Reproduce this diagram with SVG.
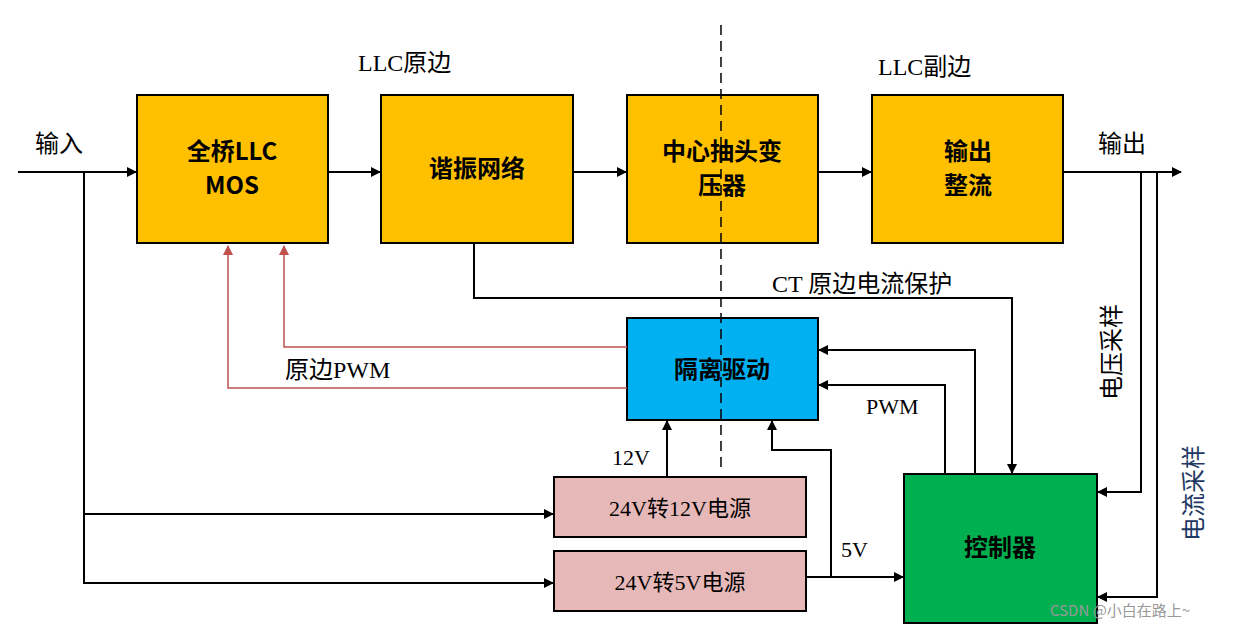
<svg xmlns="http://www.w3.org/2000/svg" width="1254" height="629" viewBox="0 0 1254 629">
<style>
.b{stroke:#000;stroke-width:2}
.t{font-family:"Noto Sans CJK SC","Liberation Serif",serif;font-size:24px;font-weight:bold;text-anchor:middle}
.l{font-family:"Liberation Serif","Noto Sans CJK SC",serif;font-size:22px}
.c{fill:none;stroke:#000;stroke-width:2}
.r{fill:none;stroke:#c0504d;stroke-width:1.5}
</style>
<defs>
<marker id="a" markerWidth="10" markerHeight="10" refX="9" refY="5" orient="auto" markerUnits="userSpaceOnUse" viewBox="0 0 10 10"><path d="M0,0L10,5L0,10z" fill="#000"/></marker>
<marker id="ar" markerWidth="10" markerHeight="10" refX="9" refY="5" orient="auto" markerUnits="userSpaceOnUse" viewBox="0 0 10 10"><path d="M0,0L10,5L0,10z" fill="#c0504d"/></marker>
</defs>
<rect width="1254" height="629" fill="#fff"/>
<g id="n1"><rect class="b" x="137" y="95" width="191" height="148" fill="#ffc000"/><text class="t" x="232" y="160">全桥LLC</text><text class="t" x="232" y="194">MOS</text></g>
<g id="n2"><rect class="b" x="381" y="95" width="192" height="148" fill="#ffc000"/><text class="t" x="477" y="177">谐振网络</text></g>
<g id="n3"><rect class="b" x="627" y="95" width="191" height="148" fill="#ffc000"/><text class="t" x="722" y="160">中心抽头变</text><text class="t" x="722" y="194">压器</text></g>
<g id="n4"><rect class="b" x="872" y="95" width="191" height="148" fill="#ffc000"/><text class="t" x="968" y="160">输出</text><text class="t" x="968" y="194">整流</text></g>
<g id="n5"><rect class="b" x="627" y="318" width="191" height="102" fill="#00b0f0"/><text class="t" x="722" y="378">隔离驱动</text></g>
<g id="n6"><rect class="b" x="554" y="477" width="252" height="60" fill="#e6b9b8"/><text class="l" x="680" y="516" text-anchor="middle" font-size="24">24V转12V电源</text></g>
<g id="n7"><rect class="b" x="554" y="551" width="252" height="60" fill="#e6b9b8"/><text class="l" x="680" y="590" text-anchor="middle" font-size="24">24V转5V电源</text></g>
<g id="n8"><rect class="b" x="904" y="474" width="193" height="149" fill="#00b050"/><text class="t" x="1000" y="556">控制器</text></g>
<g id="conn">
<path class="c" d="M18,172H136" marker-end="url(#a)"/>
<path class="c" d="M328,172H380" marker-end="url(#a)"/>
<path class="c" d="M573,172H626" marker-end="url(#a)"/>
<path class="c" d="M818,172H871" marker-end="url(#a)"/>
<path class="c" d="M1063,172H1181" marker-end="url(#a)"/>
<path d="M721,25V470" stroke="#000" stroke-width="1.5" stroke-dasharray="10,6" fill="none"/>
<path class="c" d="M474,243V298H1012V473" marker-end="url(#a)"/>
<path class="r" d="M627,347H284V246" marker-end="url(#ar)"/>
<path class="r" d="M627,388H228V246" marker-end="url(#ar)"/>
<path class="c" d="M975,474V350H819" marker-end="url(#a)"/>
<path class="c" d="M945,474V385H819" marker-end="url(#a)"/>
<path class="c" d="M667,477V421" marker-end="url(#a)"/>
<path class="c" d="M831,577V450H772V421" marker-end="url(#a)"/>
<path class="c" d="M806,577H903" marker-end="url(#a)"/>
<path class="c" d="M84,172V583H553" marker-end="url(#a)"/>
<path class="c" d="M84,514H553" marker-end="url(#a)"/>
<path class="c" d="M1141,172V492H1098" marker-end="url(#a)"/>
<path class="c" d="M1157,172V597H1098" marker-end="url(#a)"/>
</g>
<g class="l">
<text x="35" y="152" font-family="Noto Sans CJK SC,sans-serif" font-size="24">输入</text>
<text x="1098" y="152" font-family="Noto Sans CJK SC,sans-serif" font-size="24">输出</text>
<text x="358" y="71" font-size="24">LLC原边</text>
<text x="878" y="75" font-size="24">LLC副边</text>
<text x="772" y="292" font-size="24">CT 原边电流保护</text>
<text x="285" y="378" font-size="24">原边PWM</text>
<text x="866" y="414">PWM</text>
<text x="612" y="465">12V</text>
<text x="841" y="557">5V</text>
<text transform="translate(1120,352) rotate(-90)" text-anchor="middle" font-size="24">电压采样</text>
<text transform="translate(1202,493) rotate(-90)" text-anchor="middle" font-size="24" fill="#1f3864">电流采样</text>
<text x="1050" y="616" font-family="Noto Sans CJK SC,sans-serif" font-size="15" fill="#999">CSDN @小白在路上~</text>
</g>
</svg>
